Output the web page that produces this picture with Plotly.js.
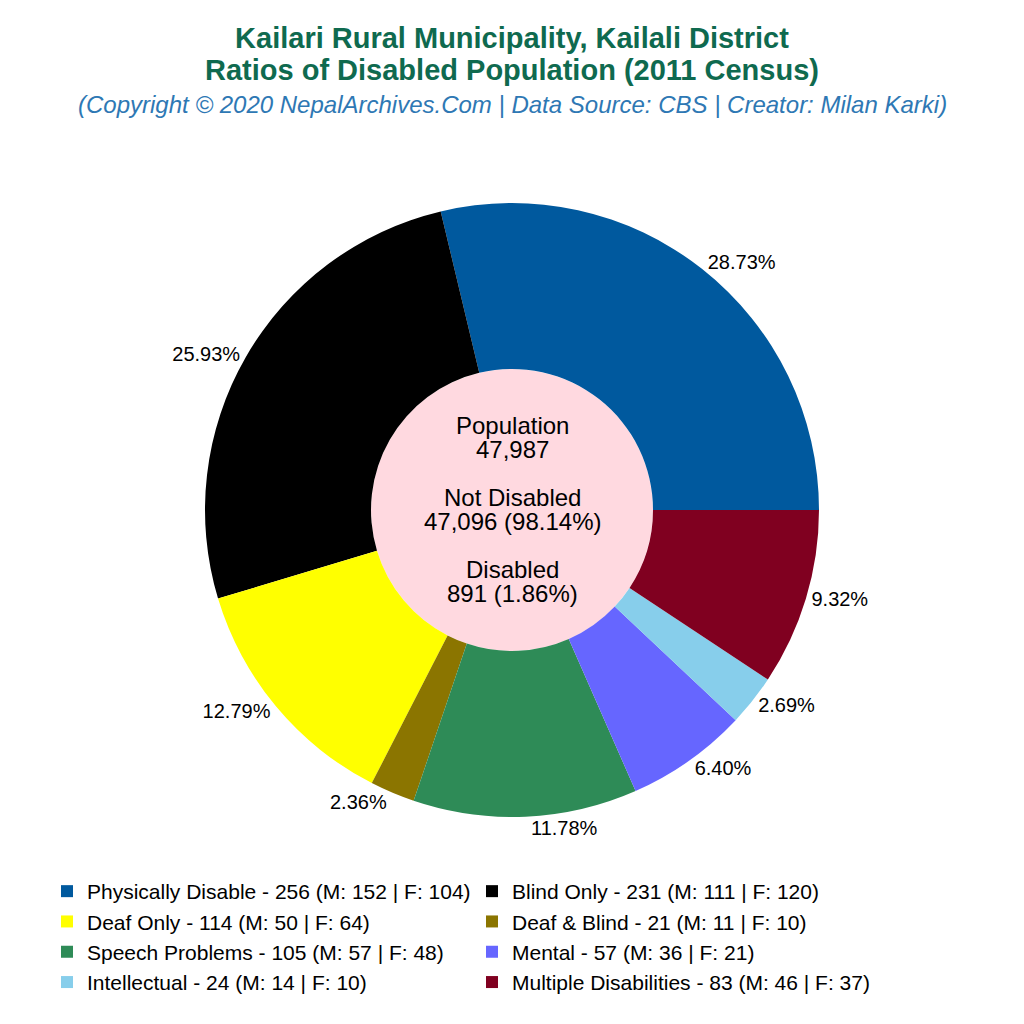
<!DOCTYPE html>
<html>
<head>
<meta charset="utf-8">
<script src="https://cdn.plot.ly/plotly-3.0.1.min.js"></script>
<style>
  html, body { margin: 0; padding: 0; background: #ffffff; }
  #chart { width: 1024px; height: 1024px; }
</style>
</head>
<body>
<div id="chart"></div>
<script>
const categories = ['Physically Disable', 'Blind Only', 'Deaf Only', 'Deaf & Blind',
  'Speech Problems', 'Mental', 'Intellectual', 'Multiple Disabilities']
const totals = [256, 231, 114, 21, 105, 57, 24, 83]
const male = [152, 111, 50, 11, 57, 36, 14, 46]
const female = [104, 120, 64, 10, 48, 21, 10, 37]
const colors = ['#00599e', '#000000', '#ffff00', '#8b7500', '#2e8b57', '#6666ff', '#87ceeb', '#800020']

const population = 47987
const notDisabled = 47096

const fmt = n => n.toLocaleString('en-US')
const disabled = totals.reduce((a, b) => a + b, 0)
const pct = n => (n / population * 100).toFixed(2) + '%'

const legendNames = categories.map((c, i) =>
  `${c} - ${totals[i]} (M: ${male[i]} | F: ${female[i]})`)

const W = 1024, H = 1024
const px = x => x / W
const py = y => 1 - y / H

// pie: centre (512,510), radius 307
const cx = 512, cy = 510, R = 307, holeR = 141

// first slice should run counterclockwise from 3 o'clock
const firstAngle = totals[0] / disabled * 360

const trace = {
  type: 'pie',
  values: totals,
  labels: legendNames,
  marker: { colors: colors, line: { width: 0 } },
  sort: false,
  direction: 'counterclockwise',
  rotation: 90 - firstAngle,
  hole: holeR / R,
  textposition: 'outside',
  texttemplate: '%{percent:.2%}',
  outsidetextfont: { size: 20, color: '#000000' },
  domain: { x: [px(cx - R), px(cx + R)], y: [py(cy + R), py(cy - R)] },
  automargin: false,
  hoverinfo: 'label+value+percent',
}

const centerLines = [
  ['Population', 425],
  [fmt(population), 449],
  ['Not Disabled', 497],
  [`${fmt(notDisabled)} (${pct(notDisabled)})`, 521],
  ['Disabled', 569],
  [`${fmt(disabled)} (${pct(disabled)})`, 593],
]

const annotations = centerLines.map(([t, y]) => ({
  text: t,
  x: 0.5, y: py(y),
  xref: 'paper', yref: 'paper',
  xanchor: 'center', yanchor: 'middle',
  showarrow: false,
  font: { size: 24, color: '#000000' },
}))

annotations.push({
  text: '<b>Ratios of Disabled Population (2011 Census)</b>',
  x: 0.5, y: py(70),
  xref: 'paper', yref: 'paper',
  xanchor: 'center', yanchor: 'middle',
  showarrow: false,
  font: { size: 29, color: '#0f6a4f' },
})

annotations.push({
  text: '<i>(Copyright © 2020 NepalArchives.Com | Data Source: CBS | Creator: Milan Karki)</i>',
  x: 0.5, y: py(104),
  xref: 'paper', yref: 'paper',
  xanchor: 'center', yanchor: 'middle',
  showarrow: false,
  font: { size: 24, color: '#2e78b4' },
})

const layout = {
  width: W,
  height: H,
  title: {
    text: '<b>Kailari Rural Municipality, Kailali District</b>',
    x: 0.5,
    xanchor: 'center',
    y: py(38),
    yanchor: 'middle',
    font: { family: 'Liberation Sans, Arial, sans-serif', size: 29, color: '#0f6a4f' },
  },
  font: { family: 'Liberation Sans, Arial, sans-serif', color: '#000000' },
  paper_bgcolor: '#ffffff',
  plot_bgcolor: '#ffffff',
  margin: { l: 0, r: 0, t: 0, b: 0 },
  showlegend: true,
  legend: {
    orientation: 'h',
    x: px(47),
    xanchor: 'left',
    y: py(871),
    yanchor: 'top',
    entrywidth: 380,
    entrywidthmode: 'pixels',
    traceorder: 'normal',
    font: { size: 21, color: '#000000' },
  },
  shapes: [{
    type: 'circle',
    xref: 'paper', yref: 'paper',
    x0: px(cx - holeR), x1: px(cx + holeR),
    y0: py(cy + holeR), y1: py(cy - holeR),
    fillcolor: '#ffd9e0',
    line: { width: 0 },
    layer: 'below',
  }],
  annotations: annotations,
}

Plotly.newPlot('chart', [trace], layout, { displaylogo: false, displayModeBar: false })
</script>
</body>
</html>
